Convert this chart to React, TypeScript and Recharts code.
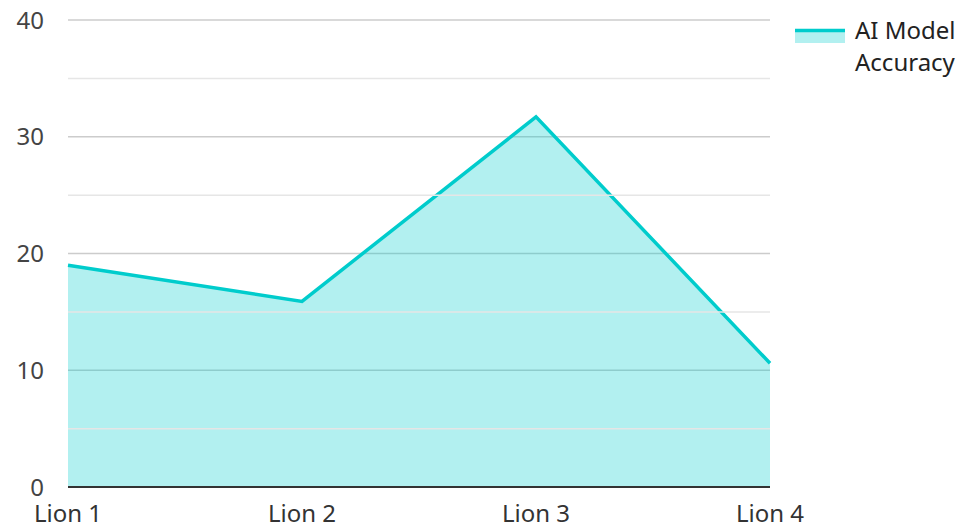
import { Area, AreaChart, CartesianGrid, Legend, ReferenceLine, XAxis, YAxis } from 'recharts';

const categories = ['Lion 1', 'Lion 2', 'Lion 3', 'Lion 4'];
const accuracy = [19, 15.9, 31.7, 10.6];
const majorTicks = [0, 10, 20, 30, 40];
const minorTicks = [5, 15, 25, 35];

const data = categories.map((name, i) => ({ name, accuracy: accuracy[i] }));

const FONT = '"Noto Sans", "Open Sans", sans-serif';
const TEAL = '#00cccc';

function LegendBox() {
  return (
    <div style={{ display: 'flex', alignItems: 'flex-start', fontFamily: FONT, fontSize: 24, color: '#222', lineHeight: '32px' }}>
      <svg width={50} height={16} style={{ marginTop: 13, marginRight: 10, flex: 'none' }}>
        <rect x={0} y={2} width={50} height={14} fill={TEAL} fillOpacity={0.3} />
        <line x1={0} y1={3.5} x2={50} y2={3.5} stroke={TEAL} strokeWidth={3.5} />
      </svg>
      <div>
        AI Model
        <br />
        Accuracy
      </div>
    </div>
  );
}

export default function App() {
  return (
    <div style={{ position: 'absolute', left: 0, top: 0 }}>
      <AreaChart width={960} height={526} data={data} margin={{ top: 20, right: 190, left: 0, bottom: 9 }}>
        <CartesianGrid vertical={false} stroke="#cccccc" strokeWidth={1.5} />
        {minorTicks.map((t) => (
          <ReferenceLine key={t} y={t} stroke="#e6e6e6" strokeWidth={1.5} />
        ))}
        <XAxis
          dataKey="name"
          height={30}
          tickSize={0}
          tickMargin={18}
          axisLine={{ stroke: '#333', strokeWidth: 2 }}
          tick={{ fontFamily: FONT, fontSize: 24, fill: '#333' }}
          padding={{ left: 0, right: 0 }}
        />
        <YAxis
          width={68}
          domain={[0, 40]}
          ticks={majorTicks}
          tickSize={0}
          tickMargin={24}
          axisLine={false}
          tick={{ fontFamily: FONT, fontSize: 24, fill: '#444' }}
        />
        <Legend
          layout="vertical"
          align="center"
          verticalAlign="middle"
          content={() => <LegendBox />}
          wrapperStyle={{ left: 795, top: 14, width: 170 }}
        />
        <Area
          type="linear"
          dataKey="accuracy"
          name="AI Model Accuracy"
          stroke={TEAL}
          strokeWidth={3.5}
          fill={TEAL}
          fillOpacity={0.3}
          dot={false}
          activeDot={false}
          isAnimationActive={false}
        />
      </AreaChart>
    </div>
  );
}
